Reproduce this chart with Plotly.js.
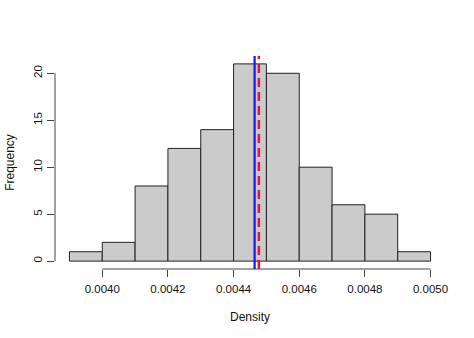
<!DOCTYPE html>
<html><head><meta charset="utf-8">
<script src="https://cdn.plot.ly/plotly-3.0.1.min.js"></script>
<style>html,body{margin:0;padding:0;background:#fff}</style>
</head><body>
<div id="chart" style="width:474px;height:338px"></div>
<script>
// Histogram bins (left edges) and counts
const binStarts = [0.0039,0.0040,0.0041,0.0042,0.0043,0.0044,0.0045,0.0046,0.0047,0.0048,0.0049];
const counts    = [1, 2, 8, 12, 14, 21, 20, 10, 6, 5, 1];
const binWidth = 0.0001;
const meanValue = 0.004464;
const medianValue = 0.004477;
const xTicks = [0.0040,0.0042,0.0044,0.0046,0.0048,0.0050];
const xTickLabels = ["0.0040","0.0042","0.0044","0.0046","0.0048","0.0050"];
const yTicks = [0,5,10,15,20];

const centers = binStarts.map(b => b + binWidth/2);
const font = {family:"Liberation Sans, Arial, sans-serif", size:11.5, color:"#111"};
const titleFont = {family:"Liberation Sans, Arial, sans-serif", size:12, color:"#111"};

const data = [{
  type:"bar", x:centers, y:counts, width:binWidth,
  marker:{color:"#cbcbcb", line:{color:"#222", width:1}},
  hoverinfo:"skip"
}];

const layout = {
  width:474, height:338,
  margin:{l:55, r:29, t:56, b:69},
  paper_bgcolor:"#fff", plot_bgcolor:"#fff",
  showlegend:false, font:font, bargap:0,
  xaxis:{
    range:[0.003856, 0.005044], tickvals:xTicks, ticktext:xTickLabels,
    ticks:"outside", ticklen:7, tickcolor:"#444", tickwidth:1, ticklabelstandoff:2,
    showgrid:false, zeroline:false, showline:false,
    title:{text:"Density", font:titleFont, standoff:18}
  },
  yaxis:{
    range:[-0.84, 21.84], tickvals:yTicks, tickangle:-90,
    ticks:"outside", ticklen:7, tickcolor:"#444", tickwidth:1, ticklabelstandoff:0,
    showgrid:false, zeroline:false, showline:false,
    title:{text:"Frequency", font:titleFont, standoff:15}
  },
  shapes:[
    {type:"line", xref:"x", yref:"paper", x0:xTicks[0], x1:xTicks[xTicks.length-1], y0:0, y1:0, line:{color:"#444", width:1}},
    {type:"line", xref:"paper", yref:"y", x0:0, x1:0, y0:yTicks[0], y1:yTicks[yTicks.length-1], line:{color:"#444", width:1}},
    {type:"line", xref:"x", yref:"paper", x0:meanValue, x1:meanValue, y0:0, y1:1, line:{color:"#1a1aff", width:2.3}},
    {type:"line", xref:"x", yref:"paper", x0:medianValue, x1:medianValue, y0:0, y1:1, line:{color:"#ee1133", width:2.5, dash:"9px,5px"}}
  ]
};
Plotly.newPlot("chart", data, layout, {displayModeBar:false, staticPlot:true});
</script>
</body></html>
